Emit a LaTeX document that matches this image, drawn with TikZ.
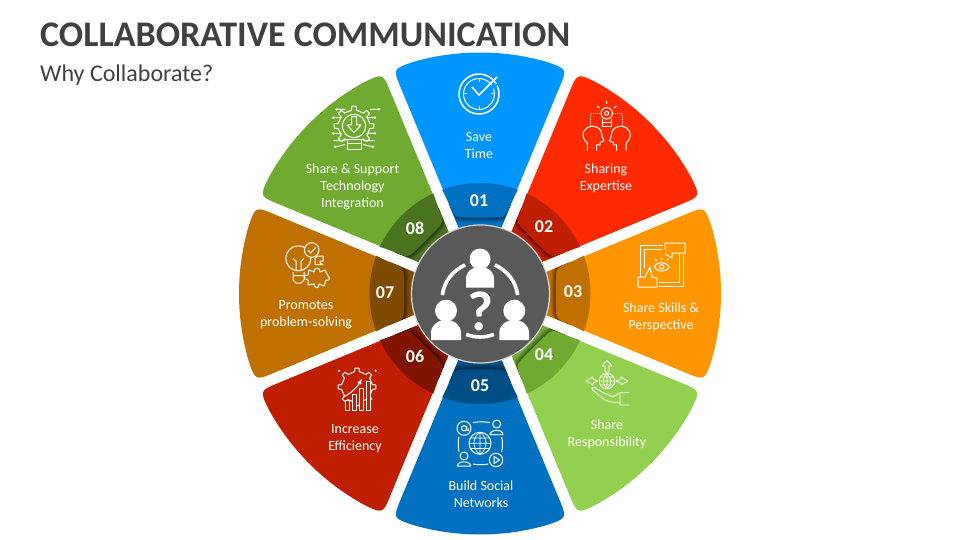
\documentclass[tikz,border=0pt]{standalone}
\usepackage{fontspec}
\setmainfont{Carlito}
\usepackage{tikz}

\definecolor{seg1}{HTML}{0096FF}
\definecolor{seg2}{HTML}{FF2A00}
\definecolor{seg3}{HTML}{FF9500}
\definecolor{seg4}{HTML}{92D050}
\definecolor{seg5}{HTML}{0070C0}
\definecolor{seg6}{HTML}{BF1E00}
\definecolor{seg7}{HTML}{BF7000}
\definecolor{seg8}{HTML}{6EAB30}
\definecolor{dark1}{HTML}{0070C0}
\definecolor{dark2}{HTML}{BF1E00}
\definecolor{dark3}{HTML}{BF7000}
\definecolor{dark4}{HTML}{6EAB30}
\definecolor{dark5}{HTML}{004E86}
\definecolor{dark6}{HTML}{7F1400}
\definecolor{dark7}{HTML}{7F4B00}
\definecolor{dark8}{HTML}{4A7320}
\definecolor{hubgray}{HTML}{595959}
\definecolor{titlegray}{HTML}{404040}

% tab shape of a segment, pointing up
\newcommand{\tabpath}{(110:110.5pt) arc[start angle=110,end angle=70,radius=110.5pt] -- (71:95pt) .. controls (71.5:80.2pt) .. (80.7:77pt) -- (99.3:77pt) .. controls (108.5:80.2pt) .. (109:95pt) -- cycle}

% rotation, colour, tab colour
\newcommand{\segwedge}[3]{
	\begin{scope}[shift={(480,293.5)},rotate=#1]
		\fill[#2] (90:14.4pt) -- (111.07:221pt) .. controls (111.2:241pt) .. (106:241pt) arc[start angle=106,end angle=74,radius=241pt] .. controls (68.8:241pt) .. (68.93:221pt) -- cycle;
		\fill[#3] (90:14.4pt) -- (109.18:95pt) -- (70.82:95pt) -- cycle;
		\begin{scope}
			\clip (90:14.4pt) -- (109.18:95pt) -- (70.82:95pt) -- cycle;
			\fill[black,opacity=.14,yshift=-4.5pt] \tabpath;
			\fill[black,opacity=.16,yshift=-3pt] \tabpath;
			\fill[black,opacity=.2,yshift=-1.5pt] \tabpath;
		\end{scope}
		\fill[#3] \tabpath;
	\end{scope}
}

\begin{document}
\begin{tikzpicture}[x=1pt,y=-1pt,
		title_style/.style={anchor=base west,inner sep=0,text=titlegray,font=\fontsize{36}{40}\selectfont\bfseries},
		sub_style/.style={anchor=base west,inner sep=0,text=titlegray,font=\fontsize{24}{28}\selectfont},
		num_style/.style={inner sep=0,text=white,font=\fontsize{18}{20}\selectfont\bfseries},
		text_style/.style={inner sep=0,align=center,text=white,font=\fontsize{14}{17}\selectfont},
		hub_style/.style={circle,draw=white!85!black,line width=1.2pt,fill=hubgray,minimum size=138pt,inner sep=0},
		icon_style/.style={draw=white,line width=1pt,line join=round},
		thin_style/.style={draw=white,line width=.8pt,line join=round},
		solid_style/.style={fill=white},
		band_style/.style={draw=white,line width=3.6pt}]
	
	\useasboundingbox (0,0) rectangle (960,540);
	
	\node[title_style] (title) at (40,47) {COLLABORATIVE COMMUNICATION};
	\node[sub_style] (subtitle) at (40,81.5) {Why Collaborate?};
	
	\segwedge{0}{seg1}{dark1}
	\segwedge{-45}{seg2}{dark2}
	\segwedge{-90}{seg3}{dark3}
	\segwedge{-135}{seg4}{dark4}
	\segwedge{180}{seg5}{dark5}
	\segwedge{135}{seg6}{dark6}
	\segwedge{90}{seg7}{dark7}
	\segwedge{45}{seg8}{dark8}
	
	\node[hub_style] (hub) at (480.5,294) {};
	
	\node[num_style] (n1) at (479,201) {01};
	\node[num_style] (n2) at (544,227) {02};
	\node[num_style] (n3) at (573,292) {03};
	\node[num_style] (n4) at (544,355) {04};
	\node[num_style] (n5) at (480,386) {05};
	\node[num_style] (n6) at (415,356) {06};
	\node[num_style] (n7) at (385,293) {07};
	\node[num_style] (n8) at (415,228) {08};
	
	\node[text_style] (t1) at (479,146) {Save\\Time};
	\node[text_style] (t2) at (606,178) {Sharing\\Expertise};
	\node[text_style] (t3) at (661,317.5) {Share Skills \&\\Perspective};
	\node[text_style] (t4) at (607,434) {Share\\Responsibility};
	\node[text_style] (t5) at (481,494) {Build Social\\Networks};
	\node[text_style] (t6) at (355,439) {Increase\\Efficiency};
	\node[text_style] (t7) at (306,315) {Promotes\\problem-solving};
	\node[text_style] (t8) at (352.5,187) {Share \& Support\\Technology\\Integration};
	
	% hub picture
	\fill[solid_style] (480,259) circle[radius=10.5pt];
	\fill[solid_style] (466,287.5) -- (466,279) .. controls (466,271) and (472,267) .. (480,267) .. controls (488,267) and (494,271) .. (494,279) -- (494,287.5) -- cycle;
	\fill[solid_style] (446,310.7) circle[radius=11pt];
	\fill[solid_style] (431,340) -- (431,333) .. controls (431,325) and (438,320) .. (446,320) .. controls (454,320) and (461,325) .. (461,333) -- (461,340) -- cycle;
	\fill[solid_style] (514.3,310.7) circle[radius=11pt];
	\fill[solid_style] (499.3,340) -- (499.3,333) .. controls (499.3,325) and (506,320) .. (514.3,320) .. controls (522,320) and (529,325) .. (529,333) -- (529,340) -- cycle;
	\draw[band_style] (480,300) ++(172.5:38pt) arc[start angle=172.5,end angle=113,radius=38pt];
	\draw[band_style] (480,300) ++(67:38pt) arc[start angle=67,end angle=7.5,radius=38pt];
	\draw[band_style] (480,300) ++(248:37pt) arc[start angle=248,end angle=292,radius=37pt];
	\node[inner sep=0,text=white,font=\fontsize{56}{56}\selectfont\bfseries] (mark) at (480,311) {?};
	
	% icon 01
	\draw[icon_style,line width=1.5pt] (479,94) ++(30:20pt) arc[start angle=30,end angle=385,radius=20pt];
	\draw[icon_style] (479,94) ++(35:15.5pt) arc[start angle=35,end angle=380,radius=15.5pt];
	\draw[icon_style,line width=1.6pt] (472,87) -- (479,95) -- (497,77);
	\draw[icon_style] (479,79) -- (479,82) (479,106) -- (479,109) (464,94) -- (467,94) (491,94) -- (494,94);
	
	% icon 02
	\draw[icon_style] (587.3,150.7) -- (587.3,143.3) .. controls (583,139) and (582,135) .. (584,131) .. controls (587,125) and (597,124) .. (601,131) .. controls (602,135) and (602,137) .. (604,140.7) -- (600,142.5) -- (600,145) -- (596.7,145) -- (596.7,150.7);
	\draw[icon_style] (626,150.7) -- (626,143.3) .. controls (630.3,139) and (631.3,135) .. (629.3,131) .. controls (626.3,125) and (616.3,124) .. (612.3,131) .. controls (611.3,135) and (611.3,137) .. (609.3,140.7) -- (613.3,142.5) -- (613.3,145) -- (616.6,145) -- (616.6,150.7);
	\draw[icon_style] (606.7,113.3) circle[radius=5.7pt] (606.7,113.3) circle[radius=2pt];
	\draw[icon_style] (602.5,119) -- (602.5,127) -- (611,127) -- (611,119) (602.5,123) -- (611,123);
	\draw[icon_style] (606.7,104) -- (606.7,101) (599.5,108) -- (597,106) (614,108) -- (616.5,106);
	\draw[icon_style,densely dotted] (600,114) -- (590.7,114) -- (590.7,125) (613,114) -- (622.3,114) -- (622.3,125);
	
	% icon 03
	\draw[icon_style] (663,245) -- (640,245) -- (640,277) (662,249.3) -- (644,249.3) -- (644,268);
	\draw[icon_style] (683.3,254) -- (683.3,286.7) -- (659,286.7) (679.3,254) -- (679.3,282.7) -- (659,282.7);
	\draw[icon_style] (665,249.5) -- (665,243) -- (685,243) -- (685,253) -- (672,253) -- (672,258) -- (665,254);
	\draw[icon_style] (657,278) -- (657,287) -- (638,287) -- (638,277) -- (645,277) -- (650,267) -- (652,277) -- cycle;
	\draw[icon_style] (654,267) .. controls (658,261) and (665,261) .. (669.5,267) .. controls (665,272.5) and (658,272.5) .. cycle;
	\draw[icon_style] (661.7,266.7) circle[radius=2.2pt];
	\draw[icon_style] (661.7,257) -- (661.7,260) (655,258.5) -- (656.5,261) (668.5,258.5) -- (667,261);
	
	% icon 04
	\draw[thin_style] (607,381) circle[radius=7.7pt];
	\draw[thin_style,line width=.6pt] (599.3,381) -- (614.7,381) (600.5,377) -- (613.5,377) (600.5,385) -- (613.5,385) (607,373.3) -- (607,388.7) (607,373.3) .. controls (602,377) and (602,385) .. (607,388.7) (607,373.3) .. controls (612,377) and (612,385) .. (607,388.7);
	\draw[thin_style] (607,372) -- (605,372) -- (605,366) -- (602,366) -- (607,360.5) -- (612,366) -- (609,366) -- (609,372) -- cycle;
	\draw[thin_style] (598,381) -- (593,383) -- (593,385) -- (586,381) -- (593,377) -- (593,379) -- cycle;
	\draw[thin_style] (616,381) -- (621,379) -- (621,377) -- (628,381) -- (621,385) -- (621,383) -- cycle;
	\draw[thin_style] (629.3,392.7) -- (620,392.7) -- (613.3,396.7) .. controls (610,395) and (606,394) .. (603.3,392.7) -- (594,387.3) -- (591.7,388.3) -- (592.7,390) -- (605,400) .. controls (610,402) and (615,402.5) .. (620,402.7) -- (620,405) -- (629.3,405) (620,392.7) -- (620,402.7);
	
	% icon 05
	\draw[icon_style] (480,443.3) circle[radius=11pt];
	\draw[icon_style,line width=.7pt] (469,443.3) -- (491,443.3) (470.5,438) -- (489.5,438) (470.5,448.5) -- (489.5,448.5) (480,432.3) -- (480,454.3) (480,432.3) .. controls (472,437) and (472,449) .. (480,454.3) (480,432.3) .. controls (488,437) and (488,449) .. (480,454.3);
	\draw[icon_style] (464,428.3) circle[radius=7pt] (464,428.3) circle[radius=2.6pt];
	\draw[icon_style] (466.6,425.8) -- (466.6,430) .. controls (467.5,431.5) and (469,431) .. (469,428.3);
	\draw[icon_style] (496.7,424) circle[radius=4pt];
	\draw[icon_style] (490,434.5) .. controls (490,429) and (503,429) .. (503,434.5) -- cycle;
	\draw[icon_style] (464,456) circle[radius=4pt];
	\draw[icon_style] (457.3,466) .. controls (457.3,460.5) and (470.7,460.5) .. (470.7,466) -- cycle;
	\draw[icon_style] (496,460) circle[radius=6.7pt];
	\draw[icon_style] (494,456.5) -- (499.5,460) -- (494,463.5) -- cycle;
	\draw[icon_style] (473,422.7) .. controls (478,421.5) and (485,421.5) .. (490,422.7);
	\draw[icon_style] (459,436.7) .. controls (458,441) and (458,447) .. (459,451.7);
	\draw[icon_style] (501.7,437) .. controls (502.7,441) and (502.7,447) .. (501.7,451.7);
	\draw[icon_style] (473,464) .. controls (478,465) and (483,465) .. (488,464);
	
	% icon 06
	\draw[icon_style,shift={(357,387)}] (-9:15.5pt) \foreach \a in {0,45,...,315} {-- (\a-9:15.5pt) -- (\a-6:19pt) -- (\a+6:19pt) -- (\a+9:15.5pt)} -- cycle;
	\draw[icon_style,fill=seg6] (345,400) rectangle (349,410);
	\draw[icon_style,fill=seg6] (352.3,394) rectangle (356.3,410);
	\draw[icon_style,fill=seg6] (359.3,388.3) rectangle (363.3,410);
	\draw[icon_style,fill=seg6] (366,381.7) rectangle (370,410);
	\draw[icon_style,-latex] (343,397) .. controls (352,393) and (358,386) .. (362,378.5);
	\fill[solid_style] (339,370.7) circle[radius=1.2pt] (375.7,370.7) circle[radius=1.2pt];
	
	% icon 07
	\draw[icon_style] (298.3,258.3) circle[radius=12.5pt];
	\draw[icon_style] (293,272) -- (293,280) -- (296,283) -- (301,283) -- (304,280) -- (304,272) (293,275.5) -- (304,275.5);
	\draw[icon_style] (296,271) -- (296,261) -- (293,258.5) (301,271) -- (301,261) -- (304,258.5);
	\draw[icon_style,fill=seg7] (311.7,250) circle[radius=7.3pt];
	\draw[icon_style] (308,250) -- (310.7,253) -- (315.5,247.5);
	\draw[icon_style,fill=seg7] (315,258) -- (318,256) -- (323,256) -- (323,261) -- (320,261) -- (320,263) -- (323,264.5) -- (315,264.5) -- cycle;
	\draw[icon_style,fill=seg7] (309,270) -- (314,272) .. controls (313,267) and (321,267) .. (320,272) -- (325,270) -- (328,276) .. controls (331,278) and (329,281) .. (326,280) -- (324,286) -- (319,284) .. controls (320,289) and (314,289) .. (314,284) -- (308,285) -- (308,280) .. controls (303,279) and (303,274) .. (308,275) -- cycle;
	
	% icon 08
	\draw[icon_style,shift={(354,126)}] (-9:16pt) \foreach \a in {0,45,...,315} {-- (\a-9:16pt) -- (\a-6:20pt) -- (\a+6:20pt) -- (\a+9:16pt)} -- cycle;
	\draw[icon_style] (354,126) circle[radius=11.7pt];
	\draw[icon_style] (351.7,116.7) -- (356.7,116.7) -- (356.7,125) -- (361,125) -- (354,132.7) -- (347.3,125) -- (351.7,125) -- cycle;
	\draw[icon_style,fill=seg8] (347,140) rectangle (361,150);
	\draw[icon_style] (347,144) -- (361,144);
	\draw[icon_style] (338,109.3) -- (345,109.3) (334.5,117.7) -- (341.7,117.7) (334.5,133.3) -- (341.7,133.3) (333.3,140.7) -- (345,140.7) (336,146.7) -- (345,144.5);
	\draw[icon_style] (370,109.3) -- (378,109.3) (366.3,117.7) -- (373.5,117.7) (366.3,133.3) -- (373.5,133.3) (363,140.7) -- (374.7,140.7) (363,144.5) -- (372,146.7);
	\fill[solid_style] (336.7,109.3) circle[radius=1.4pt] (333.3,117.7) circle[radius=1.4pt] (333.3,133.3) circle[radius=1.4pt] (335,146.7) circle[radius=1.4pt] (379,109.3) circle[radius=1.4pt] (374.7,117.7) circle[radius=1.4pt] (374.7,133.3) circle[radius=1.4pt] (373,146.7) circle[radius=1.4pt];
	
\end{tikzpicture}
\end{document}
